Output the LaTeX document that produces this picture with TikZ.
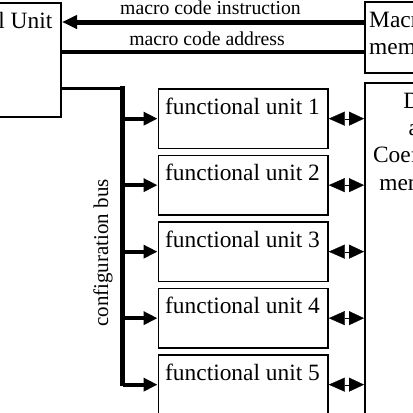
\documentclass[tikz,border=0pt]{standalone}
\usepackage{fontspec}
\setmainfont{Liberation Serif}
\usetikzlibrary{arrows.meta,calc}
\begin{document}
\begin{tikzpicture}[x=1pt,y=-1pt,
  box/.style={draw, line width=1.8pt, inner sep=0pt, anchor=north west},
  fu/.style={box, minimum width=169.5pt, minimum height=59.5pt},
  big/.style={font=\fontsize{23.4}{28}\selectfont, inner sep=0pt},
  small/.style={font=\fontsize{19.7}{24}\selectfont, inner sep=0pt},
  bustip/.style={-{Triangle[length=14pt,width=13pt]}},
  busarrow/.style={line width=4pt, bustip},
  bidir/.style={line width=0.3pt, {Triangle[length=16pt,width=14pt]}-{Triangle[length=15pt,width=14pt]}}
]
\useasboundingbox (0,0) rectangle (413,413);
\clip (0,0) rectangle (413,413);

% control unit
\node[box, anchor=north east, minimum width=150pt, minimum height=114pt] (cu) at (62,2) {};
\node[big, anchor=base east] (cut) at (52.5,28) {Control Unit};

% macro memory
\node[box, minimum width=120pt, minimum height=71pt] (mm) at (364,1) {};
\node[big, anchor=base west] (mm1) at (369,27) {Macro};
\node[big, anchor=base west] (mm2) at (369,54) {memory};

% data memory
\node[box, minimum width=120pt, minimum height=340pt] (dm) at (364,82) {};
\node[big, anchor=base] (dm1) at (425.5,108) {Data};
\node[big, anchor=base] (dm2) at (425.5,135) {and};
\node[big, anchor=base] (dm3) at (425.5,162) {Coefficient};
\node[big, anchor=base] (dm4) at (425.5,190) {memories};

% functional units
\foreach \i/\t in {1/88,2/154.5,3/221,4/287.5,5/354} {
  \node[fu] (fu\i) at (157.5,\t) {};
  \node[big, anchor=base west] (fut\i) at ($(fu\i.north west)+(7.5,26)$) {functional unit \i};
}

% macro code lines
\draw[line width=5pt, -{Triangle[length=15pt,width=13pt]}] (mm.west |- 0,22) -- (cu.east |- 0,22);
\draw[line width=4pt] (cu.east |- 0,52) -- (mm.west |- 0,52);
\node[small, anchor=base] (li) at (210.5,14.5) {macro code instruction};
\node[small, anchor=base] (la) at (207,45) {macro code address};

% configuration bus
\coordinate (bt) at (122.5,88);
\coordinate (bb) at (122.5,383.75);
\draw[line width=3pt] (cu.east |- bt) -- (bt);
\draw[line width=5pt, line cap=rect] (bt) -- (bb);
\foreach \i in {1,...,5} {
  \draw[busarrow] (bt |- fu\i.west) -- (fu\i.west);
  \draw[bidir] (fu\i.east) -- (dm.west |- fu\i.east);
}
\node[small, font=\fontsize{21}{24}\selectfont, rotate=90, anchor=base] (cb) at (108,253) {configuration bus};
\end{tikzpicture}
\end{document}
